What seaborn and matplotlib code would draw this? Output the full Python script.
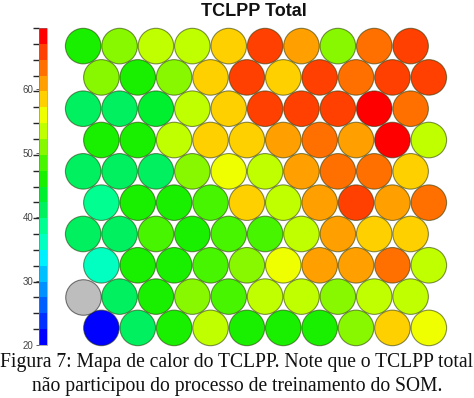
import numpy as np
import pandas as pd
import matplotlib
matplotlib.use("Agg")
import matplotlib as mpl
import matplotlib.pyplot as plt
from matplotlib.colors import ListedColormap, BoundaryNorm
import seaborn as sns

# SOM map, 10x10 hexagonal grid; row 0 is the top row,
# odd rows are shifted half a cell to the right. nan = empty unit (grey)
tclpp = [
    [46, 51, 53, 53, 58, 66, 61, 51, 63, 66],
    [51, 46, 51, 58, 66, 58, 66, 63, 66, 66],
    [41, 41, 43, 53, 58, 66, 66, 66, 68, 63],
    [46, 46, 53, 58, 58, 61, 63, 61, 68, 53],
    [41, 41, 41, 51, 56, 53, 61, 63, 63, 58],
    [39, 46, 46, 48, 58, 53, 61, 66, 61, 63],
    [41, 41, 48, 46, 48, 48, 53, 61, 58, 58],
    [36, 46, 46, 48, 51, 56, 61, 61, 63, 53],
    [np.nan, 41, 46, 51, 48, 53, 53, 51, 53, 53],
    [21, 41, 46, 53, 46, 46, 46, 51, 58, 56],
]

# 20-step colour scale, low -> high
scale_colors = [
    "#0000ff", "#0030ff", "#0060ff", "#0090ff", "#00c0ff",
    "#00f0ff", "#00ffc0", "#00ff90", "#00f060", "#00f030",
    "#18f000", "#48f500", "#88f800", "#c0ff00", "#f0ff00",
    "#ffd000", "#ffa000", "#ff7000", "#ff4000", "#ff0000",
]
vmin, vmax = 20, 69.5
cbar_ticks = [20, 30, 40, 50, 60]
empty_color = "#bdbdbd"

title = "TCLPP Total"
caption = ["Figura 7: Mapa de calor do TCLPP. Note que o TCLPP total",
           "não participou do processo de treinamento do SOM."]

sns.set_theme(style="white")
plt.rcParams["font.family"] = ["Liberation Sans", "DejaVu Sans"]

rows = []
h = np.sqrt(3) / 2
for r, line in enumerate(tclpp):
    for c, v in enumerate(line):
        rows.append({"x": c + 0.5 * (r % 2), "y": -r * h, "value": v})
df = pd.DataFrame(rows)

cmap = ListedColormap(sns.color_palette(scale_colors))
bounds = np.linspace(vmin, vmax, len(scale_colors) + 1)
norm = BoundaryNorm(bounds, cmap.N)

W, H = 474, 398
fig = plt.figure(figsize=(W / 100, H / 100), dpi=100)
ax = fig.add_axes([65 / W, 52 / H, 382 / W, 318 / H])

px_per_unit = ax.get_position().width * W / 10.5
d_pt = px_per_unit * 72 / fig.dpi - 0.6
edge = (0.15, 0.2, 0.0, 0.55)

sns.scatterplot(data=df.dropna(), x="x", y="y", hue="value",
                palette=cmap, hue_norm=norm, s=d_pt ** 2,
                edgecolor=edge, linewidth=0.8, legend=False,
                clip_on=False, ax=ax)
sns.scatterplot(data=df[df["value"].isna()], x="x", y="y",
                color=empty_color, s=d_pt ** 2, edgecolor=(0, 0, 0, 0.5),
                linewidth=0.8, legend=False, clip_on=False, ax=ax)
ax.set_xlim(-0.5, 10.0)
ax.set_ylim(-9 * h - 0.5, 0.5)
ax.axis("off")

cax = fig.add_axes([39 / W, 53 / H, 8 / W, 317 / H])
cb = fig.colorbar(mpl.cm.ScalarMappable(norm=norm, cmap=cmap), cax=cax,
                  ticks=cbar_ticks, spacing="proportional")
cax.yaxis.set_ticks_position("left")
cax.tick_params(axis="y", length=2, width=0.6, pad=2,
                labelsize=7, labelcolor="#444444", color="#444444")
cb.outline.set_linewidth(0.4)
cb.outline.set_edgecolor("#777777")

fig.text(254 / W, 1 - 11 / H, title, ha="center", va="center",
         fontsize=13, fontweight="bold", color="#111111")
fig.text(0.5, 1 - 362 / H, caption[0], ha="center", va="center",
         family="Liberation Serif", fontsize=14.1, color="#111111")
fig.text(0.5, 1 - 386 / H, caption[1], ha="center", va="center",
         family="Liberation Serif", fontsize=14.1, color="#111111")

fig.savefig("out.png", dpi=100)
